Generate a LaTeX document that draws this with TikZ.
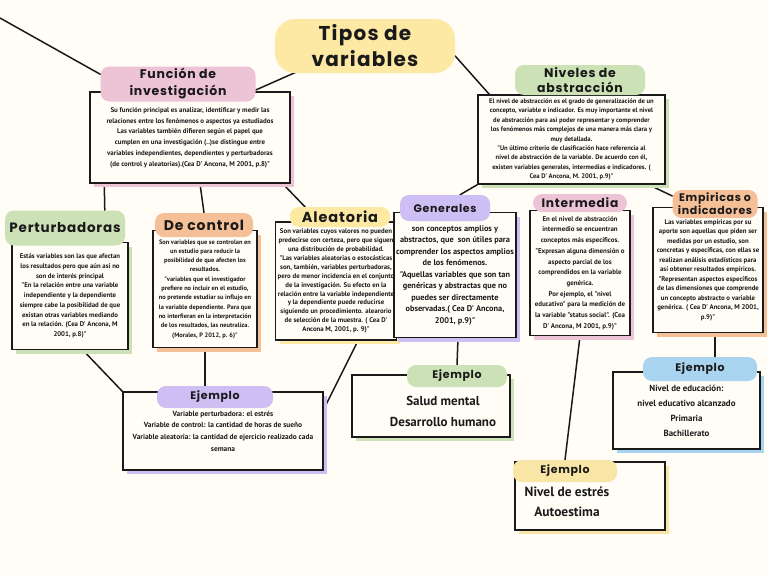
\documentclass[tikz,border=0pt]{standalone}
\usepackage{fontspec}
\setmainfont{PT Sans}
\newfontfamily\bodyfont{PT Sans}
\newfontfamily\headfont{Poppins}[LetterSpace=6]
\usetikzlibrary{
  positioning,
  shadows,
  backgrounds,
  calc
}
\definecolor{paperBg}{HTML}{FFFDF6}
\definecolor{titleYellow}{HTML}{FDE9A4}
\definecolor{cardPink}{HTML}{EDC3D6}
\definecolor{cardGreen}{HTML}{CCE2B6}
\definecolor{cardOrange}{HTML}{F5BF98}
\definecolor{cardPurple}{HTML}{CDBEF4}
\definecolor{cardBlue}{HTML}{A9D4EF}
\definecolor{cardYellow}{HTML}{F9E6A6}
\definecolor{inkBlack}{HTML}{1A1A1A}
\newcommand{\bodySize}[2]{\bodyfont\bfseries\fontsize{#1}{#2}\selectfont}
\newcommand{\headSize}[2]{\headfont\bfseries\fontsize{#1}{#2}\selectfont}
\tikzset{
  card/.style={
    draw=inkBlack, line width=1.5pt, fill=paperBg, align=center,
    inner sep=2pt, text=inkBlack,
    drop shadow={shadow xshift=4pt, shadow yshift=-4pt, fill=#1, opacity=1}
  },
  headBlob/.style={
    fill=#1, rounded corners=9pt, align=center, inner sep=1pt,
    text=inkBlack
  },
  cardText/.style={align=center, inner sep=0pt, text=inkBlack},
  link/.style={draw=inkBlack, line width=1.5pt, line cap=round}
}

\begin{document}
\begin{tikzpicture}[x=1pt, y=-1pt]

\useasboundingbox (0,0) rectangle (768,576);
\begin{scope}[on background layer]
  \fill[paperBg] (0,0) rectangle (768,576);
\end{scope}

% ── Title ──────────────────────────────────────────────────────────
\node[headBlob=titleYellow, rounded corners=20pt, minimum width=180pt,
      minimum height=54pt, font=\headSize{20}{26}] (titleBlob) at (365,46)
  {Tipos de\\variables};
\coordinate (corner) at (0,18);

% ── Función de investigación ──────────────────────────────────────
\node[card=cardPink, minimum width=200pt, minimum height=91pt,
      font=\bodySize{6.9}{10.8}] (funcBox) at (190,137.5)
  {Su función principal es analizar, identificar y medir las\\
   relaciones entre los fenómenos o aspectos ya estudiados\\
   Las variables también difieren según el papel que\\
   cumplen en una investigación (..)se distingue entre\\
   variables independientes, dependientes y perturbadoras\\
   (de control y aleatorias).(Cea D' Ancona, M 2001, p.8)"};
\node[headBlob=cardPink, minimum width=155pt, minimum height=35pt,
      font=\headSize{12.5}{17}] (funcHead) at (178,84)
  {Función de\\investigación};

% ── Niveles de abstracción ────────────────────────────────────────
\node[card=cardGreen, minimum width=187pt, minimum height=89pt,
      font=\bodySize{6.6}{9.4}] (nivBox) at (571.5,139.5)
  {El nivel de abstracción es el grado de generalización de un\\
   concepto, variable e indicador. Es muy importante el nivel\\
   de abstracción para así poder representar y comprender\\
   los fenómenos más complejos de una manera más clara y\\
   muy detallada.\\
   "Un último criterio de clasificación hace referencia al\\
   nivel de abstracción de la variable. De acuerdo con él,\\
   existen variables generales, intermedias e indicadores. (\\
   Cea D' Ancona, M. 2001, p.9)"};
\node[headBlob=cardGreen, minimum width=130pt, minimum height=30pt,
      font=\headSize{12.5}{15.5}] (nivHead) at (580,80)
  {Niveles de\\abstracción};

% ── Perturbadoras ─────────────────────────────────────────────────
\node[card=cardGreen, minimum width=116pt, minimum height=107pt,
      font=\bodySize{6.8}{9.75}] (pertBox) at (70,296)
  {Estás variables son las que afectan\\
   los resultados pero que aún así no\\
   son de interés principal\\
   "En la relación entre una variable\\
   independiente y la dependiente\\
   siempre cabe la posibilidad de que\\
   existan otras variables mediando\\
   en la relación. (Cea D' Ancona, M\\
   2001, p.8)"};
\node[headBlob=cardGreen, minimum width=120pt, minimum height=35pt,
      font=\headSize{13.5}{16}] (pertHead) at (65,228) {Perturbadoras};

% ── De control ────────────────────────────────────────────────────
\node[card=cardOrange, minimum width=104pt, minimum height=117pt,
      font=\bodySize{6.4}{9.3}] (ctrlBox) at (205,289)
  {Son variables que se controlan en\\
   un estudio para reducir la\\
   posibilidad de que afecten los\\
   resultados.\\
   "variables que el investigador\\
   prefiere no incluir en el estudio,\\
   no pretende estudiar su influjo en\\
   la variable dependiente. Para que\\
   no interfieran en la interpretación\\
   de los resultados, las neutraliza.\\
   (Morales, P 2012, p. 6)"};
\node[headBlob=cardOrange, minimum width=98pt, minimum height=24pt,
      font=\headSize{14}{16}] (ctrlHead) at (204,225) {De control};

% ── Aleatoria ─────────────────────────────────────────────────────
\node[card=titleYellow, minimum width=114pt, minimum height=118pt,
      font=\bodySize{6.8}{8.9}] (aleaBox) at (336,281)
  {Son variables cuyos valores no pueden\\
   predecirse con certeza, pero que siguen\\
   una distribución de probabilidad.\\
   "Las variables aleatorias o estocásticas\\
   son, también, variables perturbadoras,\\
   pero de menor incidencia en el conjunto\\
   de la investigación. Su efecto en la\\
   relación entre la variable independiente\\
   y la dependiente puede reducirse\\
   siguiendo un procedimiento. alearorio\\
   de selección de la muestra. ( Cea D'\\
   Ancona M, 2001, p. 9)"};
\node[headBlob=titleYellow, minimum width=100pt, minimum height=20pt,
      font=\headSize{14.5}{16}] (aleaHead) at (340,217) {Aleatoria};

% ── Generales ─────────────────────────────────────────────────────
\node[card=cardPurple, minimum width=120pt, minimum height=125pt,
      font=\bodySize{8.3}{11.5}] (genBox) at (455,275)
  {son conceptos amplios y\\
   abstractos, que \ son útiles para\\
   comprender los aspectos amplios\\
   de los fenómenos.\\
   "Aquellas variables que son tan\\
   genéricas y abstractas que no\\
   puedes ser directamente\\
   observadas.( Cea D' Ancona,\\
   2001, p.9)"};
\node[headBlob=cardPurple, minimum width=90pt, minimum height=26pt,
      font=\headSize{11}{15}] (genHead) at (445,208) {Generales};

% ── Intermedia ────────────────────────────────────────────────────
\node[card=cardPink, minimum width=100pt, minimum height=125pt,
      font=\bodySize{6.9}{10.7}] (intBox) at (580,273)
  {En el nivel de abstracción\\
   intermedio se encuentran\\
   conceptos más específicos.\\
   "Expresan alguna dimensión o\\
   aspecto parcial de los\\
   comprendidos en la variable\\
   genérica.\\
   Por ejemplo, el "nivel\\
   educativo" para la medición de\\
   la variable "status social". (Cea\\
   D' Ancona, M 2001, p.9)"};
\node[headBlob=cardPink, minimum width=94pt, minimum height=18pt,
      font=\headSize{12.2}{15}] (intHead) at (580,203) {Intermedia};

% ── Empiricas o indicadores ───────────────────────────────────────
\node[card=cardOrange, minimum width=110pt, minimum height=125pt,
      font=\bodySize{6.8}{9.5}] (empBox) at (708,270)
  {Las variables empíricas por su\\
   aporte son aquellas que piden ser\\
   medidas por un estudio, son\\
   concretas y específicas, con ellas se\\
   realizan análisis estadísticos para\\
   así obtener resultados empíricos.\\
   "Representan aspectos específicos\\
   de las dimensiones que comprende\\
   un concepto abstracto o variable\\
   genérica. ( Cea D' Ancona, M 2001,\\
   p.9)"};
\node[headBlob=cardOrange, minimum width=85pt, minimum height=28pt,
      font=\headSize{11}{13}] (empHead) at (715,204)
  {Empiricas o\\indicadores};

% ── Ejemplos ──────────────────────────────────────────────────────
\node[card=cardPurple, minimum width=200pt, minimum height=78pt,
      font=\bodySize{7.4}{11.7}] (ejOneBox) at (223,431)
  {Variable perturbadora: el estrés\\
   Variable de control: la cantidad de horas de sueño\\
   Variable aleatoria: la cantidad de ejercicio realizado cada\\
   semana};
\node[headBlob=cardPurple, minimum width=116pt, minimum height=22pt,
      font=\headSize{11}{15}] (ejOneHead) at (215,397) {Ejemplo};

\node[card=cardGreen, minimum width=158pt, minimum height=62pt]
  (ejTwoBox) at (431,406) {};
\node[cardText, font=\bodySize{13}{21}] (ejTwoText) at (443,411)
  {Salud mental\\Desarrollo humano};
\node[headBlob=cardGreen, minimum width=100pt, minimum height=22pt,
      font=\headSize{11}{15}] (ejTwoHead) at (457,376) {Ejemplo};

\node[card=cardBlue, minimum width=147pt, minimum height=77pt,
      font=\bodySize{8.9}{15}] (ejThreeBox) at (686.5,410.5)
  {Nivel de educación:\\
   nivel educativo alcanzado\\
   Primaria\\
   Bachillerato};
\node[headBlob=cardBlue, minimum width=114pt, minimum height=24pt,
      font=\headSize{11}{15}] (ejThreeHead) at (700,369) {Ejemplo};

\node[card=cardYellow, minimum width=150pt, minimum height=68pt]
  (ejFourBox) at (590,496) {};
\node[cardText, font=\bodySize{13.4}{20}] (ejFourText) at (567,502)
  {Nivel de estrés\\Autoestima};
\node[headBlob=cardYellow, minimum width=104pt, minimum height=22pt,
      font=\headSize{11}{15}] (ejFourHead) at (565,471) {Ejemplo};

% ── Connectors (under the cards) ──────────────────────────────────
\begin{scope}[on background layer]
  \draw[link] (corner) -- ([yshift=-8pt]funcHead.north west);
  \draw[link] ([yshift=-6pt]funcHead.east)
    -- ([xshift=28pt, yshift=4pt]titleBlob.south west);
  \draw[link] ([yshift=-10pt]titleBlob.east)
    -- ([xshift=12pt]nivBox.north west);

  \draw[link] ([xshift=15pt]funcBox.south west)
    -- ([xshift=100pt]pertHead.north west);
  \draw[link] ([xshift=10pt]funcBox.south) -- (ctrlHead.north);
  \draw[link] ([xshift=-8pt]funcBox.south east)
    -- ([xshift=-35pt]aleaHead.north);

  \draw[link] (nivBox.south west) -- ([xshift=15pt]genHead.north);
  \draw[link] ([xshift=-17pt]nivBox.south east)
    -- ([yshift=8pt]empHead.west);

  \draw[link] ([xshift=13pt]pertBox.south) -- (ejOneBox.north west);
  \draw[link] (ctrlBox.south) -- ([xshift=-10pt]ejOneHead.north);
  \draw[link] ([xshift=22pt]aleaBox.south)
    -- ([yshift=-18pt]ejOneBox.north east);
  \draw[link] ([xshift=3pt]genBox.south) -- (ejTwoHead.north);
  \draw[link] (intBox.south) -- (ejFourHead.north);
  \draw[link] ([xshift=7pt]empBox.south) -- ([xshift=15pt]ejThreeHead.north);
\end{scope}

\end{tikzpicture}
\end{document}
